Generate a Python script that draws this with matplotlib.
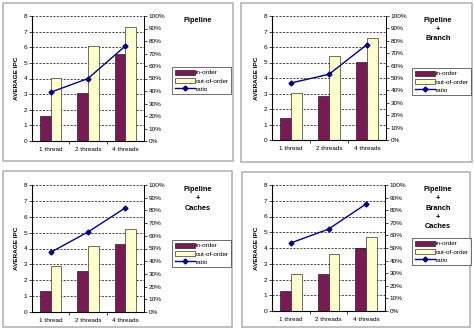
import matplotlib
matplotlib.use("Agg")
import matplotlib.pyplot as plt
import numpy as np
from matplotlib.lines import Line2D
from matplotlib.patches import Patch, Rectangle

plt.rcParams['font.family'] = ['Liberation Sans', 'DejaVu Sans']

W, H = 474, 336

threads = ["1 thread", "2 threads", "4 threads"]
ipc_ticks = [0, 1, 2, 3, 4, 5, 6, 7, 8]
pct_ticks = [0, 10, 20, 30, 40, 50, 60, 70, 80, 90, 100]

titles = ["Pipeline", "Pipeline\n+\nBranch", "Pipeline\n+\nCaches",
          "Pipeline\n+\nBranch\n+\nCaches"]

in_order = [
    [1.6, 3.05, 5.55],
    [1.4, 2.85, 5.05],
    [1.35, 2.6, 4.3],
    [1.25, 2.35, 4.0],
]
out_of_order = [
    [4.05, 6.1, 7.3],
    [3.05, 5.4, 6.55],
    [2.9, 4.15, 5.25],
    [2.35, 3.6, 4.7],
]
ratio = [
    [39, 50, 76],
    [46, 53, 77],
    [47, 63, 82],
    [54, 65, 85],
]

# pixel layout: (frame box), (axes box), title centre, legend box top-left
frames = [(3, 3, 233, 161), (241, 3, 472, 162), (3, 171, 232, 327), (242, 172, 470, 327)]
axes_px = [(32, 16, 144, 141), (272, 16, 386, 140), (32, 185, 144, 312), (272, 185, 385, 311)]
title_px = [(198, 17), (438, 17), (198, 186), (438, 186)]
legend_px = [(172, 67), (412, 68), (172, 240), (412, 238)]

PURPLE = "#7a1a55"
YELLOW = "#ffffcc"
NAVY = "#000080"
FS = 4.6


def px_rect(x0, y0, x1, y1):
    return [x0 / W, 1 - y1 / H, (x1 - x0) / W, (y1 - y0) / H]


fig = plt.figure(figsize=(W / 100, H / 100), dpi=100)

for i in range(4):
    # grey frame around each panel
    fx0, fy0, fx1, fy1 = frames[i]
    fig.patches.append(Rectangle((fx0 / W, 1 - fy1 / H), (fx1 - fx0) / W, (fy1 - fy0) / H,
                                 transform=fig.transFigure, fill=False,
                                 edgecolor="#b4b4b4", linewidth=1.2))

    ax = fig.add_axes(px_rect(*axes_px[i]))
    x = np.arange(len(threads))
    bw = 0.285
    ax.bar(x - bw / 2, in_order[i], bw, color=PURPLE, edgecolor="black", linewidth=0.4, zorder=3)
    ax.bar(x + bw / 2, out_of_order[i], bw, color=YELLOW, edgecolor="black", linewidth=0.4, zorder=3)
    ax.set_xlim(-0.5, 2.5)
    ax.set_ylim(0, 8)
    ax.set_yticks(ipc_ticks)
    ax.set_yticklabels([str(t) for t in ipc_ticks], fontsize=FS)
    ax.set_xticks([0.5, 1.5])
    ax.set_xticklabels([])
    ax.set_xticks(x, minor=True)
    ax.set_xticklabels(threads, minor=True, fontsize=FS)
    ax.tick_params(axis='x', which='minor', length=0, pad=4)
    ax.tick_params(axis='x', which='major', length=2.5, width=0.5)
    ax.tick_params(axis='y', length=2, width=0.5, pad=1.5)
    for t in ipc_ticks[1:]:
        ax.axhline(t, color="black", linestyle=(0, (3, 2)), linewidth=0.5, zorder=1)
    ax.spines['top'].set_visible(False)
    for s in ['left', 'bottom', 'right']:
        ax.spines[s].set_linewidth(0.6)
    ax.set_ylabel("AVERAGE IPC", fontsize=FS, fontweight='bold', labelpad=3)

    ax2 = ax.twinx()
    ax2.plot(x, np.array(ratio[i]) / 100, color=NAVY, linewidth=1.0,
             marker='D', markersize=2.5, zorder=4)
    ax2.set_ylim(0, 1)
    ax2.set_yticks(np.array(pct_ticks) / 100)
    ax2.set_yticklabels([f"{p}%" for p in pct_ticks], fontsize=FS)
    ax2.tick_params(axis='y', length=2, width=0.5, pad=1.5)
    ax2.spines['top'].set_visible(False)
    ax2.spines['right'].set_linewidth(0.6)

    tx, ty = title_px[i]
    fig.text(tx / W, 1 - ty / H, titles[i], ha='center', va='top',
             fontsize=5.3, fontweight='bold', linespacing=1.45)

    handles = [Patch(facecolor=PURPLE, edgecolor="black", linewidth=0.4),
               Patch(facecolor=YELLOW, edgecolor="black", linewidth=0.4),
               Line2D([], [], color=NAVY, linewidth=1.0, marker='D', markersize=2.5)]
    lx, ly = legend_px[i]
    leg = fig.legend(handles, ["in-order", "out-of-order", "ratio"],
                     loc='upper left', bbox_to_anchor=(lx / W, 1 - ly / H),
                     fontsize=FS, frameon=True, fancybox=False, borderpad=0.4,
                     handlelength=3.2, handleheight=0.9, handletextpad=0.1,
                     labelspacing=0.35, borderaxespad=0)
    leg.get_frame().set_edgecolor("black")
    leg.get_frame().set_linewidth(0.5)

fig.savefig("out.png", dpi=100)
